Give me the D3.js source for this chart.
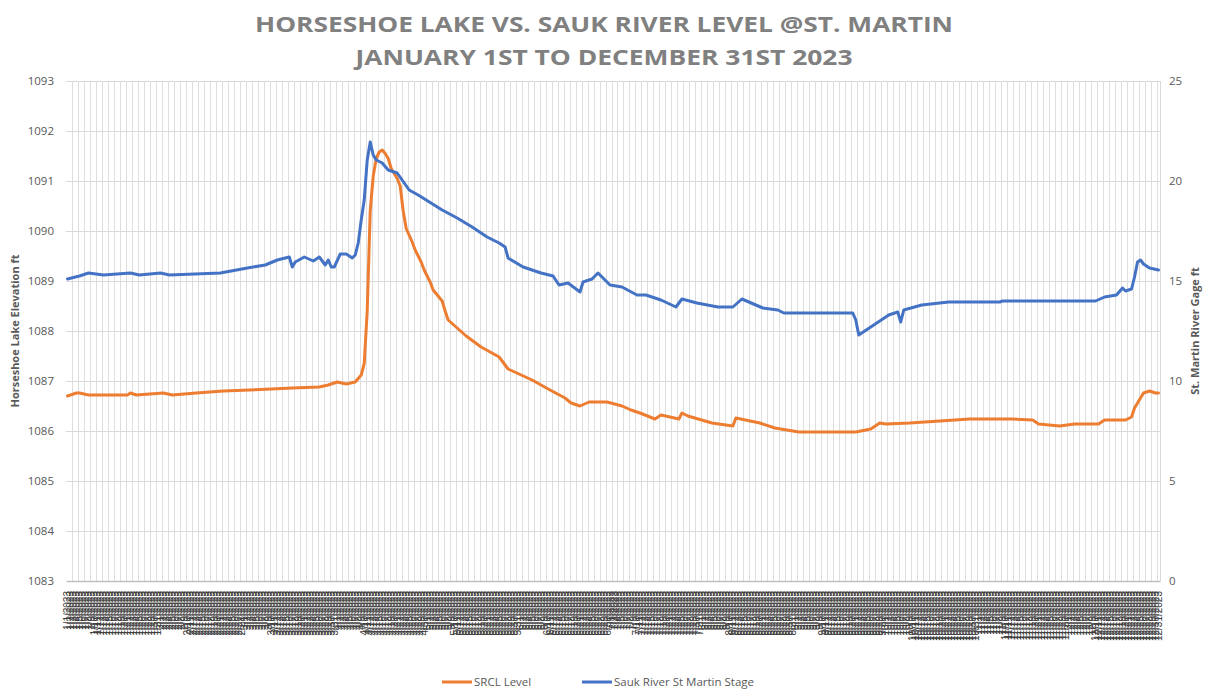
<!DOCTYPE html>
<html>
<head>
<meta charset="utf-8">
<script src="https://cdn.jsdelivr.net/npm/d3@7"></script>
<style>
  body { margin: 0; background: #fff; }
  text { font-family: "Open Sans", "Liberation Sans", sans-serif; }
</style>
</head>
<body>
<svg id="chart" width="1210" height="697"></svg>
<script>
// day index (0 = 1/1/2023) and value
var srclDays = [0, 3, 4, 7, 20, 21, 23, 32, 35, 43, 52, 68, 75, 84, 87, 90, 93, 96, 98, 99,
  100, 101, 102, 103, 104, 105, 106, 107, 108, 110, 111, 112, 113, 115, 116, 118, 119, 121, 122, 125,
  126, 127, 133, 138, 144, 147, 155, 161, 166, 168, 171, 174, 180, 185, 188, 191, 196, 198, 204, 205,
  207, 215, 222, 223, 231, 236, 244, 263, 268, 271, 273, 281, 291, 301, 315, 322, 324, 331,
  336, 344, 346, 353, 355, 356, 358, 359, 361, 363, 364];
var srclLevel = [1086.70, 1086.76, 1086.76, 1086.72, 1086.72, 1086.76, 1086.72, 1086.76, 1086.72,
  1086.76, 1086.80, 1086.84, 1086.86, 1086.88, 1086.92, 1086.98, 1086.94, 1086.98, 1087.12, 1087.35,
  1088.40, 1090.40, 1091.10, 1091.45, 1091.58, 1091.62, 1091.55, 1091.45, 1091.25, 1091.05, 1090.90,
  1090.40, 1090.05, 1089.78, 1089.62, 1089.38, 1089.22, 1088.98, 1088.82, 1088.60, 1088.40, 1088.22,
  1087.90, 1087.68, 1087.48, 1087.24,
  1087.02, 1086.82, 1086.66, 1086.56, 1086.50, 1086.58, 1086.58, 1086.50, 1086.42, 1086.36, 1086.24,
  1086.32, 1086.24, 1086.36, 1086.30, 1086.16, 1086.10, 1086.26, 1086.16, 1086.06, 1085.98, 1085.98,
  1086.04, 1086.16, 1086.14, 1086.16, 1086.20, 1086.24, 1086.24, 1086.22, 1086.14, 1086.10, 1086.14,
  1086.14, 1086.22, 1086.22, 1086.28, 1086.46, 1086.66, 1086.76, 1086.80, 1086.76, 1086.76];

var saukDays = [0, 4, 7, 12, 21, 24, 31, 34, 51, 60, 66, 70, 74, 75, 76, 79, 82, 84, 86, 87, 88,
  89, 91, 93, 95, 96, 97, 98, 99, 100, 101, 102, 103, 105, 107, 110, 114, 117, 125, 130, 135, 140,
  144, 146, 147, 152, 158, 162, 164, 167, 171, 172, 175, 177, 181, 185, 190, 193, 198, 203, 205,
  210, 217, 222, 225, 232, 237, 239, 262, 263, 264, 268, 274, 277, 278, 279, 285, 294, 311, 312,
  343, 346, 350, 352, 353, 355, 356, 357, 358, 359, 361, 364];
var saukStage = [15.10, 15.25, 15.40, 15.30, 15.40, 15.30, 15.40, 15.30, 15.40, 15.65, 15.80, 16.05,
  16.20, 15.70, 15.95, 16.20, 16.00, 16.20, 15.80, 16.05, 15.70, 15.70, 16.35, 16.35, 16.15, 16.30,
  16.90, 18.05, 19.05, 21.05, 21.95, 21.30, 21.05, 20.90, 20.55, 20.40, 19.55, 19.30, 18.55, 18.15,
  17.70, 17.20, 16.90, 16.70, 16.15, 15.70, 15.40, 15.25, 14.80, 14.90, 14.45, 14.95, 15.10, 15.40,
  14.80, 14.70, 14.30, 14.30, 14.05, 13.70, 14.10, 13.90, 13.70, 13.70, 14.10, 13.65, 13.55, 13.40,
  13.40, 13.05, 12.30, 12.70, 13.30, 13.45, 12.95, 13.55, 13.80, 13.95, 13.95, 14.00, 14.00, 14.20,
  14.30, 14.65, 14.50, 14.60, 15.20, 15.95, 16.05, 15.85, 15.65, 15.55];

var leftTicks = [1083, 1084, 1085, 1086, 1087, 1088, 1089, 1090, 1091, 1092, 1093];
var rightTicks = [0, 5, 10, 15, 20, 25];
var titleLines = ["HORSESHOE LAKE VS. SAUK RIVER LEVEL @ST. MARTIN", "JANUARY 1ST TO DECEMBER 31ST 2023"];
var seriesNames = ["SRCL Level", "Sauk River St Martin Stage"];

var dates = d3.timeDays(new Date(2023, 0, 1), new Date(2024, 0, 1));
var dateLabels = dates.map(function(d) { return (d.getMonth()+1) + "/" + d.getDate() + "/" + d.getFullYear(); });

var plotLeft = 66, plotRight = 1160, plotTop = 81, plotBottom = 581;
var orange = "#ED7D31", blue = "#4472C4", textGray = "#595959";

var svg = d3.select("#chart");

var xScale = d3.scaleBand().domain(dateLabels).range([plotLeft, plotRight]);
var yLeft = d3.scaleLinear().domain([1083, 1093]).range([plotBottom, plotTop]);
var yRight = d3.scaleLinear().domain([0, 25]).range([plotBottom, plotTop]);

function xPos(day) { return xScale(dateLabels[day]) + xScale.bandwidth()/2; }

////////////////////////////  GRID  ////////////////////////////
var grid = svg.append("g");
grid.selectAll("line.h")
    .data(leftTicks.slice(1))
    .enter().append("line")
    .attr("x1", plotLeft).attr("x2", plotRight)
    .attr("y1", function(d) { return Math.round(yLeft(d)) + 0.5; })
    .attr("y2", function(d) { return Math.round(yLeft(d)) + 0.5; })
    .attr("stroke", "#d9d9d9").attr("stroke-width", 1);

grid.selectAll("line.v")
    .data(dateLabels.filter(function(d, i) { return i % 2 == 0 && i > 0; }))
    .enter().append("line")
    .attr("x1", function(d) { return Math.round(xScale(d)) + 0.5; })
    .attr("x2", function(d) { return Math.round(xScale(d)) + 0.5; })
    .attr("y1", plotTop).attr("y2", plotBottom)
    .attr("stroke", "#dedede").attr("stroke-width", 1);

grid.append("line")
    .attr("x1", plotRight + 0.5).attr("x2", plotRight + 0.5).attr("y1", plotTop).attr("y2", plotBottom)
    .attr("stroke", "#d9d9d9");

////////////////////////////  AXES  ////////////////////////////
var xAxis = svg.append("g")
    .attr("transform", "translate(0," + plotBottom + ")")
    .call(d3.axisBottom(xScale).tickSize(0));
xAxis.select(".domain").attr("stroke", "#bfbfbf").attr("stroke-width", 1.5);
xAxis.selectAll("text")
    .attr("transform", "rotate(-90)")
    .attr("text-anchor", "end")
    .attr("x", -10).attr("y", 0).attr("dy", "0.35em")
    .attr("fill", "#404040")
    .style("font-size", "10px")
    .style("font-family", "'Liberation Sans', sans-serif");

svg.append("g").selectAll("text")
    .data(leftTicks).enter().append("text")
    .attr("x", 54).attr("y", function(d) { return yLeft(d); })
    .attr("dy", "0.35em").attr("text-anchor", "end")
    .attr("fill", textGray).style("font-size", "11.5px")
    .text(function(d) { return d; });

svg.append("g").selectAll("text")
    .data(rightTicks).enter().append("text")
    .attr("x", 1169).attr("y", function(d) { return yRight(d); })
    .attr("dy", "0.35em").attr("text-anchor", "start")
    .attr("fill", textGray).style("font-size", "11.5px")
    .text(function(d) { return d; });

svg.append("text")
    .attr("transform", "translate(19," + (plotTop+plotBottom)/2 + ") rotate(-90)")
    .attr("text-anchor", "middle")
    .attr("fill", textGray).style("font-size", "11px").style("font-weight", "bold")
    .text("Horseshoe Lake Elevation ft");

svg.append("text")
    .attr("transform", "translate(1199," + (plotTop+plotBottom)/2 + ") rotate(-90)")
    .attr("text-anchor", "middle")
    .attr("fill", textGray).style("font-size", "11px").style("font-weight", "bold")
    .text("St. Martin River Gage ft");

////////////////////////////  LINES  ////////////////////////////
var srclLine = d3.line()
    .x(function(d, i) { return xPos(d); })
    .y(function(d, i) { return yLeft(srclLevel[i]); });
var saukLine = d3.line()
    .x(function(d, i) { return xPos(d); })
    .y(function(d, i) { return yRight(saukStage[i]); });

svg.append("path")
    .attr("d", srclLine(srclDays))
    .attr("fill", "none").attr("stroke", orange).attr("stroke-width", 3)
    .attr("stroke-linejoin", "round").attr("stroke-linecap", "round");

svg.append("path")
    .attr("d", saukLine(saukDays))
    .attr("fill", "none").attr("stroke", blue).attr("stroke-width", 3)
    .attr("stroke-linejoin", "round").attr("stroke-linecap", "round");

////////////////////////////  TITLE & LEGEND  ////////////////////////////
svg.selectAll("text.title")
    .data(titleLines).enter().append("text")
    .attr("x", 604).attr("y", function(d, i) { return 32 + i*33; })
    .attr("text-anchor", "middle")
    .attr("textLength", function(d, i) { return i == 0 ? 698 : 497; })
    .attr("lengthAdjust", "spacingAndGlyphs")
    .attr("fill", "#808080").style("font-size", "21px").style("font-weight", "bold")
    .text(function(d) { return d; });

var legend = svg.append("g");
var legendX = [442, 582];
var legendColors = [orange, blue];
seriesNames.forEach(function(name, i) {
  legend.append("line")
      .attr("x1", legendX[i]).attr("x2", legendX[i] + 30)
      .attr("y1", 682).attr("y2", 682)
      .attr("stroke", legendColors[i]).attr("stroke-width", 3);
  legend.append("text")
      .attr("x", legendX[i] + 32).attr("y", 682).attr("dy", "0.35em")
      .attr("fill", textGray).style("font-size", "11.5px")
      .text(name);
});
</script>
</body>
</html>
